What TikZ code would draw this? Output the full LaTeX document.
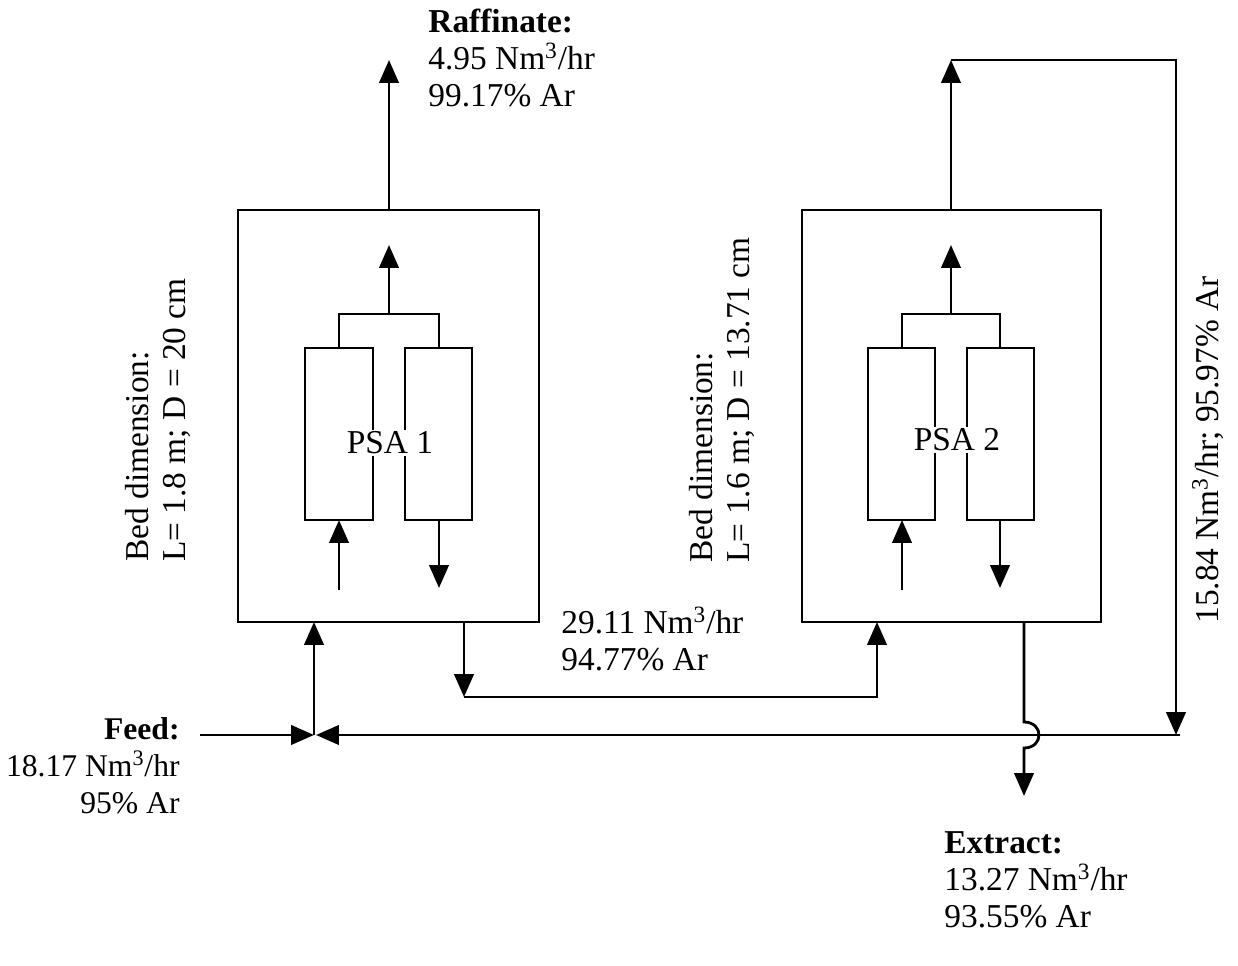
\documentclass[tikz,border=0pt]{standalone}
\usepackage{fontspec}
\setmainfont{Liberation Serif}
\usetikzlibrary{arrows.meta}

\begin{document}
\begin{tikzpicture}[x=0.02cm,y=-0.02cm,line width=1.6pt,
    flow/.style={-{Triangle[length=13pt,width=11pt]}},
    lbl/.style={font=\fontsize{19}{21}\selectfont,align=left,inner sep=0pt}]
        \useasboundingbox (0,0) rectangle (1238,966);

        % units
        \draw (238,210) rectangle (539,622);
        \draw (802,210) rectangle (1101,622);
        \draw (305,348) rectangle (373,520);
        \draw (405,348) rectangle (472,520);
        \draw (868,348) rectangle (935,520);
        \draw (967,348) rectangle (1034,520);
        \node[lbl,fill=white,inner sep=1pt] (psa1) at (390,443) {PSA 1};
        \node[lbl,fill=white,inner sep=1pt] (psa2) at (957,440) {PSA 2};

        % headers
        \draw (339,348) -- (339,314) -- (439,314) -- (439,348);
        \draw (902,348) -- (902,314) -- (1000,314) -- (1000,348);
        \draw[flow] (389,314) -- (389,245);
        \draw[flow] (951,314) -- (951,245);
        \draw[flow] (339,590) -- (339,520);
        \draw[flow] (439,520) -- (439,588);
        \draw[flow] (902,590) -- (902,520);
        \draw[flow] (1000,520) -- (1000,588);

        % streams
        \coordinate (mix) at (314,735);
        \draw[flow] (389,210) -- (389,60);
        \draw[flow] (951,210) -- (951,60);
        \draw[flow] (951,60) -- (1176,60) -- (1176,735);
        \draw[flow] (1180,735) -- (316,735);
        \draw[flow] (200,735) -- (mix);
        \draw[flow] (mix) -- (314,622);
        \draw[flow] (464,622) -- (464,697);
        \draw[flow] (464,697) -- (877,697) -- (877,622);
        \draw[flow] (1024,622) -- (1024,722) .. controls (1044,722) and (1044,748) .. (1024,748) -- (1024,796);

        % labels
        \node[lbl,anchor=north west] (raf) at (427,8) {\textbf{Raffinate:}\\4.95 Nm\textsuperscript{3}/hr\\99.17\% Ar};
        \node[lbl,anchor=north east,align=right,font=\fontsize{18}{21}\selectfont] (feed) at (181,716) {\textbf{Feed:}\\18.17 Nm\textsuperscript{3}/hr\\95\% Ar};
        \node[lbl,anchor=north west] (ext) at (943,830) {\textbf{Extract:}\\13.27 Nm\textsuperscript{3}/hr\\93.55\% Ar};
        \node[lbl,anchor=north west] (mid) at (560,606) {29.11 Nm\textsuperscript{3}/hr\\94.77\% Ar};
        \node[lbl,rotate=90] (bed1) at (158,420) {Bed dimension:\\L= 1.8 m; D = 20 cm};
        \node[lbl,rotate=90] (bed2) at (722,400) {Bed dimension:\\L= 1.6 m; D = 13.71 cm};
        \node[lbl,rotate=90] (rec) at (1208,450) {15.84 Nm\textsuperscript{3}/hr; 95.97\% Ar};
    \end{tikzpicture}
\end{document}
